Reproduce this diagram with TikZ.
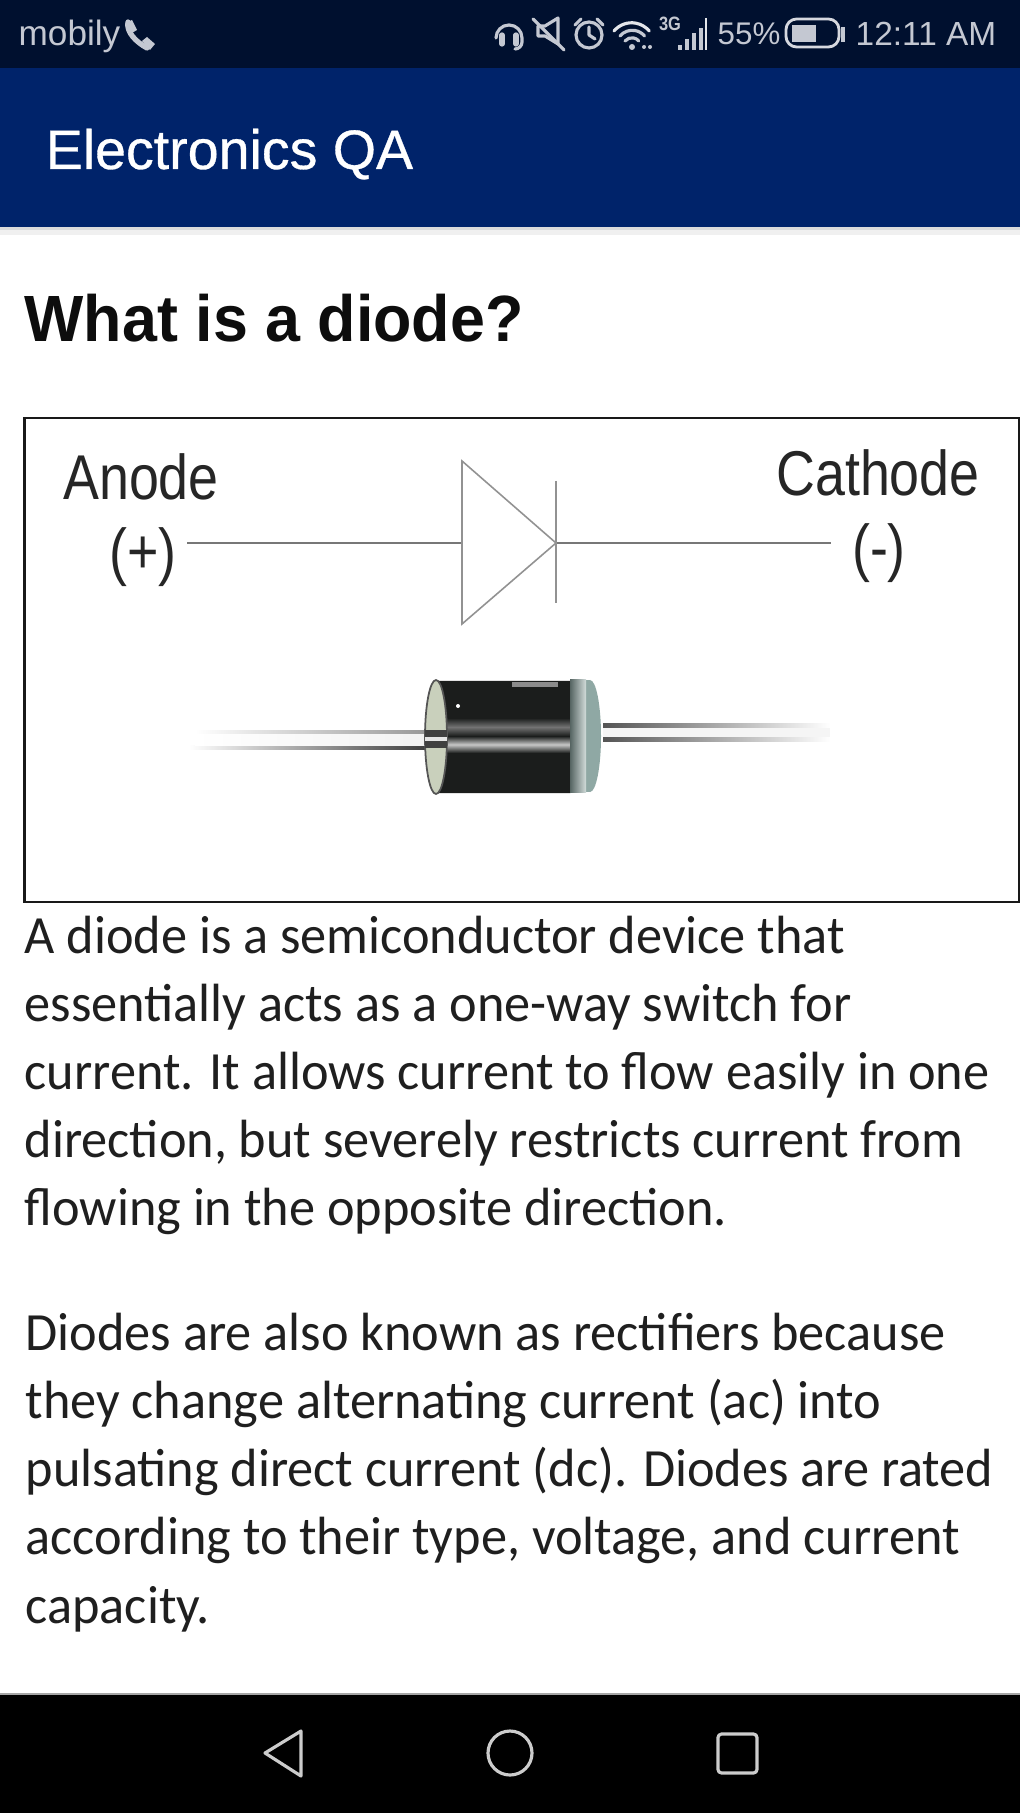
\documentclass[tikz,border=0pt]{standalone}
\usepackage{fontspec}
\setmainfont{Liberation Sans}
\newfontfamily\bodyfont[FakeStretch=0.972]{Carlito}
\newfontfamily\labelfont[FakeStretch=0.85]{Liberation Sans}
\newfontfamily\headfont[FakeStretch=0.96]{Liberation Sans}
\newfontfamily\titlefont[FakeBold=0.6]{Liberation Sans}
\definecolor{statusbar}{HTML}{00102F}
\definecolor{titlebar}{HTML}{00236A}
\definecolor{statusgray}{HTML}{C4C8D2}
\definecolor{wiregray}{HTML}{777777}
\definecolor{leadgray}{HTML}{555555}
\definecolor{bodyblack}{HTML}{1B1D1C}
\definecolor{bandgreen}{HTML}{8FA8A4}
\definecolor{capgreen}{HTML}{C9D0BC}
\tikzset{
  statustext/.style={anchor=base west, inner sep=0pt, text=statusgray, font=\fontsize{9.5}{11}\selectfont},
  bodytext/.style={anchor=base west, inner sep=0pt, text=black!88, font=\bodyfont\fontsize{15.3}{18}\selectfont},
  labeltext/.style={anchor=base, inner sep=0pt, text=black!85, font=\labelfont\fontsize{18}{21}\selectfont},
  icon/.style={draw=statusgray, line width=0.9pt, line cap=round, line join=round},
  navicon/.style={draw=black!20, line width=0.9pt, line join=round},
  wire/.style={draw=wiregray, line width=0.75pt},
  symbol/.style={draw=wiregray!80, line width=0.45pt},
}
\begin{document}
\begin{tikzpicture}[x=0.01cm, y=-0.01cm]
\useasboundingbox (0,0) rectangle (1020,1813);
\fill [white] (0,0) rectangle (1020,1813);

\fill [statusbar] (0,0) rectangle (1020,68);
\fill [black!14] (0,227) rectangle (1020,230);
\fill [black!6] (0,230) rectangle (1020,235);
\fill [titlebar] (0,68) rectangle (1020,227);
\node [statustext, font=\fontsize{10}{11}\selectfont] (carrier) at (18,46) {mobily};
\node [statustext, font=\fontsize{8.9}{11}\selectfont] (battpercent) at (717,45) {55\%};
\node [statustext] (clock) at (855,46) {12:11 AM};
\node [anchor=base west, inner sep=0pt, text=white, font=\titlefont\fontsize{15.8}{20}\selectfont] (apptitle) at (45,169) {Electronics QA};

\draw [icon, line width=1.5pt] (128,22) .. controls (126,32) and (136,42) .. (147,48);
\fill [statusgray] (125,23) -- (132,20) -- (137,30) -- (132,33) -- cycle;
\fill [statusgray] (142,41) -- (147,37) -- (155,44) -- (150,50) -- cycle;

\draw [icon] (496,38) arc [start angle=-180, end angle=0, radius=13] -- (522,42) arc [start angle=0, end angle=90, radius=7];
\draw [icon, line width=1.5pt] (502,35) -- (502,44);
\draw [icon, line width=1.5pt] (516,35) -- (516,44);

\draw [icon] (538,26) -- (545,26) -- (558,18) -- (558,44) -- (545,36) -- (538,36) -- cycle;
\draw [icon] (533,19) -- (564,50);

\draw [icon] (589,35) circle [radius=13];
\draw [icon] (589,27) -- (589,35) -- (595,39);
\draw [icon] (575,25) -- (581,19);
\draw [icon] (603,25) -- (597,19);

\draw [icon, statusgray!45] (614,31) arc [start angle=-140, end angle=-40, radius=23];
\draw [icon] (620,36) arc [start angle=-140, end angle=-40, radius=16];
\draw [icon] (625,41) arc [start angle=-140, end angle=-40, radius=9];
\fill [statusgray] (632,47) circle [radius=3];
\fill [statusgray] (644,47) circle [radius=2];
\fill [statusgray] (650,47) circle [radius=2];

\node [inner sep=0pt, text=statusgray, font=\labelfont\bfseries\fontsize{5.5}{6}\selectfont] (netlabel) at (670,24) {3G};
\foreach \x/\y in {678/45, 685/39, 692/33, 699/28} {
  \fill [statusgray] (\x,\y) rectangle (\x+3.5,50);
}
\draw [statusgray!45, line width=0.5pt] (706,18) -- (706,50);

\draw [icon, statusgray!70, line width=0.8pt, rounded corners=3pt] (786,19) rectangle (839,47);
\fill [statusgray] (792,25) rectangle (816,42);
\fill [statusgray] (841,27) rectangle (845,42);

\node [anchor=base west, inner sep=0pt, text=black!95, font=\headfont\bfseries\fontsize{18.6}{22}\selectfont] (heading) at (24,342) {What is a diode?};

\draw [black!90, line width=0.6pt] (24.5,418) rectangle (1019,902);

\node [labeltext] (anode) at (141,500) {Anode};
\node [labeltext] (anodesign) at (143,574) {(+)};
\node [labeltext] (cathode) at (878,496) {Cathode};
\node [labeltext] (cathodesign) at (879,570) {(-)};

\coordinate (wirestart) at (187,543);
\coordinate (triback) at (462,543);
\coordinate (tritop) at (462,461);
\coordinate (tribottom) at (462,624);
\coordinate (apex) at (556,543);
\coordinate (barup) at (556,481);
\coordinate (bardown) at (556,603);
\coordinate (wireend) at (831,543);
\draw [wire] (wirestart) -- (triback);
\draw [wire] (apex) -- (wireend);
\draw [symbol] (tritop) -- (apex) -- (tribottom) -- cycle;
\draw [symbol] (barup) -- (bardown);

\shade [left color=white, right color=black!40] (195,730) rectangle (425,734);
\shade [left color=white, right color=black!75] (189,745) rectangle (425,749);
\shade [left color=white, right color=black!5] (195,734) rectangle (425,745);
\fill [black!4] (603,727) rectangle (830,737);
\shade [left color=leadgray, right color=white] (603,723) rectangle (830,727);
\shade [left color=leadgray, right color=white] (603,737) rectangle (830,741);

\fill [bodyblack, rounded corners=1pt] (432,681) rectangle (574,793);
\shade [top color=bodyblack, bottom color=bodyblack, middle color=black!55] (446,718) rectangle (574,736);
\shade [top color=bodyblack, bottom color=bodyblack, middle color=black!22] (446,736) rectangle (574,753);
\fill [white] (458,706) circle [radius=2];
\fill [black!45] (512,682) rectangle (558,687);
\fill [bandgreen] (572,680) rectangle (590,792);
\fill [bandgreen] (590,736) ellipse [x radius=11, y radius=56];
\shade [left color=bandgreen!60!black, right color=bandgreen!40] (570,680) rectangle (586,792);
\draw [leadgray, fill=capgreen, line width=0.5pt] (436,737) ellipse [x radius=11, y radius=57];
\fill [black!75] (425,730) rectangle (447,748);
\fill [black!10] (425,737) rectangle (447,741);

\node [bodytext] (para11) at (24,953) {A diode is a semiconductor device that};
\node [bodytext] (para12) at (24,1021) {essentially acts as a one-way switch for};
\node [bodytext] (para13) at (24,1089) {current. It allows current to flow easily in one};
\node [bodytext] (para14) at (24,1157) {direction, but severely restricts current from};
\node [bodytext] (para15) at (24,1225) {flowing in the opposite direction.};
\node [bodytext] (para21) at (25,1350) {Diodes are also known as rectifiers because};
\node [bodytext] (para22) at (25,1418) {they change alternating current (ac) into};
\node [bodytext] (para23) at (25,1486) {pulsating direct current (dc). Diodes are rated};
\node [bodytext] (para24) at (25,1554) {according to their type, voltage, and current};
\node [bodytext] (para25) at (25,1623) {capacity.};

\fill [black!35] (0,1693) rectangle (1020,1696);
\fill [black] (0,1695) rectangle (1020,1813);
\draw [navicon] (265,1753) -- (301,1731) -- (301,1776) -- cycle;
\draw [navicon] (510,1753) circle [radius=22];
\draw [navicon, rounded corners=1pt] (718,1734) rectangle (757,1773);
\end{tikzpicture}
\end{document}
